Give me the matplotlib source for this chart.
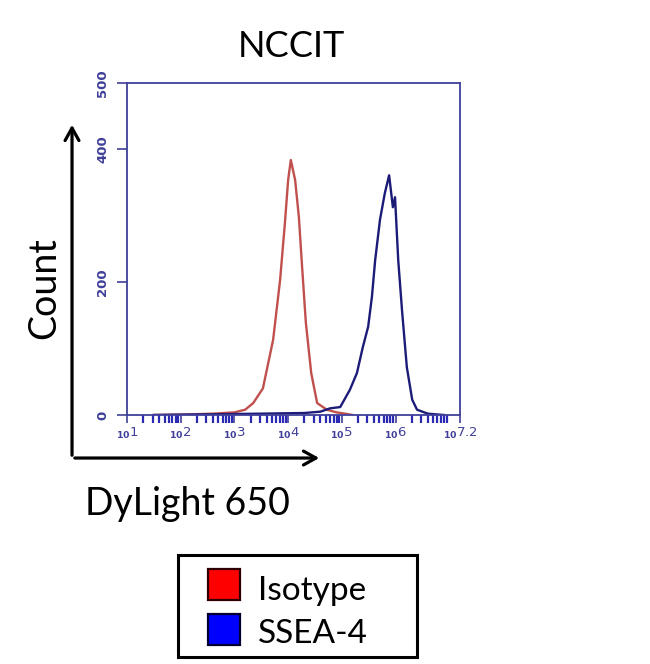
import numpy as np
import matplotlib
matplotlib.use("Agg")
import matplotlib.pyplot as plt
from matplotlib.patches import Rectangle, FancyArrowPatch

plt.rcParams['font.family'] = ['Lato', 'DejaVu Sans']

# fluorescence intensity, given as log10 exponents
isotype_exp = [1.5, 2.2, 2.6, 3.0, 3.2, 3.35, 3.53, 3.72, 3.85, 3.94, 4.0, 4.05,
               4.13, 4.2, 4.26, 4.33, 4.43, 4.54, 4.72, 4.9, 5.06, 5.2]
isotype_count = [0, 1, 2, 4, 8, 18, 40, 113, 203, 289, 354, 384,
                 354, 298, 223, 139, 63, 18, 8, 4, 2, 0]

ssea4_exp = [1.5, 2.5, 3.5, 4.3, 4.6, 4.78, 4.97, 5.15, 5.28, 5.39, 5.49, 5.56,
             5.62, 5.71, 5.80, 5.88, 5.95, 5.99, 6.05, 6.12, 6.21, 6.31, 6.40, 6.6, 6.9]
ssea4_count = [0, 1, 2, 3, 5, 10, 12, 38, 63, 102, 133, 178,
               233, 294, 334, 361, 313, 328, 233, 158, 72, 23, 8, 2, 0]

decades = [1, 2, 3, 4, 5, 6, 7.2]
y_ticks = [0, 200, 400, 500]
series_names = ["Isotype", "SSEA-4"]
swatch_colors = ["#ff0000", "#0000ff"]

axis_col = "#40409a"

fig = plt.figure(figsize=(6.5, 6.64), dpi=100)
ax = fig.add_axes([0.1954, 0.375, 0.5123, 0.5])

ax.plot(10 ** np.array(isotype_exp), isotype_count, color="#c0504d", lw=1.7)
ax.plot(10 ** np.array(ssea4_exp), ssea4_count, color="#1c1c78", lw=1.7)

ax.set_xscale("log")
ax.set_xlim(10, 10 ** 7.2)
ax.set_ylim(0, 500)
ax.set_xticks([10 ** d for d in decades])
ax.set_xticklabels([r"$_{\mathbf{10}}\mathregular{%s}$" % (str(d) if d != int(d) else str(int(d)))
                    for d in decades], fontsize=9.5, color=axis_col,
                   family="DejaVu Sans")
ax.set_yticks(y_ticks)
ax.set_yticklabels([str(v) for v in y_ticks], rotation=90, va="center",
                   fontsize=9.5, color=axis_col, family="DejaVu Sans", weight="bold")
ax.tick_params(axis="y", which="major", color=axis_col, direction="out", length=7, width=1.2, pad=6)
ax.tick_params(axis="x", which="major", color=axis_col, direction="out", length=6, width=1.2, pad=2)
ax.tick_params(axis="x", which="minor", color="#2a2ab4", direction="out", length=5.5, width=1.6)
for sp in ax.spines.values():
    sp.set_color(axis_col)
    sp.set_linewidth(1.3)

# hand-drawn style axis arrows
fig.patches.append(FancyArrowPatch((0.1108, 0.3102), (0.1108, 0.8163), transform=fig.transFigure,
                                   arrowstyle="->,head_length=9,head_width=5", lw=2.3, color="black"))
fig.patches.append(FancyArrowPatch((0.1108, 0.3102), (0.4954, 0.3102), transform=fig.transFigure,
                                   arrowstyle="->,head_length=9,head_width=5", lw=2.3, color="black"))

fig.text(0.449, 0.9142, "NCCIT", ha="center", va="baseline", fontsize=26)
fig.text(0.068, 0.566, "Count", ha="center", va="center", rotation=90, fontsize=27)
fig.text(0.1308, 0.2244, "DyLight 650", ha="left", va="baseline", fontsize=27)

# legend box drawn by hand to match the boxed key under the plot
fig.patches.append(Rectangle((0.2738, 0.0105), 0.3677, 0.1536, transform=fig.transFigure,
                             facecolor="white", edgecolor="black", lw=2.2))
swatch_y = [0.0964, 0.0286]
text_y = [0.0964, 0.0316]
for name, col, sy, ty in zip(series_names, swatch_colors, swatch_y, text_y):
    fig.patches.append(Rectangle((0.32, sy), 0.0492, 0.0467, transform=fig.transFigure,
                                 facecolor=col, edgecolor="#300000" if col == "#ff0000" else "#000030",
                                 lw=1.6))
    fig.text(0.397, ty, name, ha="left", va="baseline", fontsize=24)

fig.savefig("out.png", dpi=100)
